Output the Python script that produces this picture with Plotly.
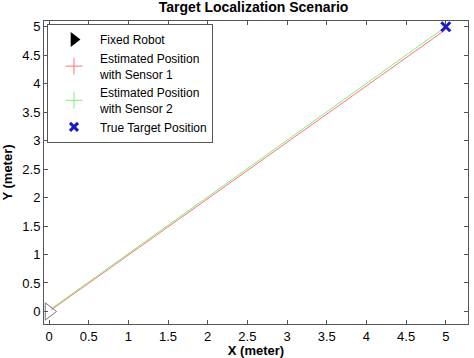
import plotly.graph_objects as go

robot_x = [0]
robot_y = [0]
s1_x = [0.03, 5.0]
s1_y = [0.03, 4.95]
s2_x = [0.03, 5.0]
s2_y = [0.05, 5.0]
target_x = [5]
target_y = [5]
xticks = [0, 0.5, 1, 1.5, 2, 2.5, 3, 3.5, 4, 4.5, 5]
yticks = [0, 0.5, 1, 1.5, 2, 2.5, 3, 3.5, 4, 4.5, 5]

FONT = "Liberation Sans, Arial, sans-serif"
fig = go.Figure()

fig.add_trace(go.Scatter(x=s1_x, y=s1_y, mode="lines", line=dict(color="#ff7070", width=1), showlegend=False))
fig.add_trace(go.Scatter(x=s2_x, y=s2_y, mode="lines", line=dict(color="#80ee80", width=1), showlegend=False))
fig.add_trace(go.Scatter(x=robot_x, y=robot_y, mode="markers",
                         marker=dict(symbol="triangle-right-open", size=15, color="#777777", line=dict(width=1)),
                         showlegend=False))
fig.add_trace(go.Scatter(x=target_x, y=target_y, mode="markers",
                         marker=dict(symbol="x-thin-open", size=9, color="#1a1acc", line=dict(width=3, color="#1a1acc")),
                         showlegend=False))

fig.add_trace(go.Scatter(x=[None], y=[None], mode="markers", name="Fixed Robot",
                         marker=dict(symbol="triangle-right", size=13, color="black")))
fig.add_trace(go.Scatter(x=[None], y=[None], mode="markers", name="Estimated Position<br>with Sensor 1",
                         marker=dict(symbol="cross-thin-open", size=12, color="#ff7070", line=dict(width=1, color="#ff7070"))))
fig.add_trace(go.Scatter(x=[None], y=[None], mode="markers", name="Estimated Position<br>with Sensor 2",
                         marker=dict(symbol="cross-thin-open", size=12, color="#80ee80", line=dict(width=1, color="#80ee80"))))
fig.add_trace(go.Scatter(x=[None], y=[None], mode="markers", name="True Target Position",
                         marker=dict(symbol="x-thin-open", size=8, color="#1a1acc", line=dict(width=3, color="#1a1acc"))))

axis_common = dict(showgrid=False, zeroline=False, ticks="inside", ticklen=4, mirror="ticks",
                   showline=True, linecolor="#555555", linewidth=1, tickcolor="#555555",
                   automargin=False,
                   tickfont=dict(size=13, color="black", family=FONT))

fig.update_layout(
    width=474, height=358,
    margin=dict(l=44, r=6, t=21, b=34, autoexpand=False),
    paper_bgcolor="white", plot_bgcolor="white",
    font=dict(family=FONT, size=13, color="black"),
    title=dict(text="<b>Target Localization Scenario</b>", x=0.535, xanchor="center", y=0.995, yanchor="top",
               font=dict(size=14, family=FONT)),
    xaxis=dict(range=[-0.063, 5.28], tickvals=xticks, ticktext=[f"{v:g}" for v in xticks],
               title=dict(text="<b>X (meter)</b>", standoff=4, font=dict(size=13)), **axis_common),
    yaxis=dict(range=[-0.22, 5.1], tickvals=yticks, ticktext=[f"{v:g}" for v in yticks],
               title=dict(text="<b>Y (meter)</b>", standoff=8, font=dict(size=13)), **axis_common),
    legend=dict(x=0.007, y=0.99, xanchor="left", yanchor="top", bgcolor="white",
                bordercolor="#555555", borderwidth=1, font=dict(size=12, family=FONT),
                tracegroupgap=0, itemwidth=42),
)

fig.write_html("out.html", config={"displayModeBar": False},
               post_script="document.body.style.margin='0';document.body.style.overflow='hidden';")
